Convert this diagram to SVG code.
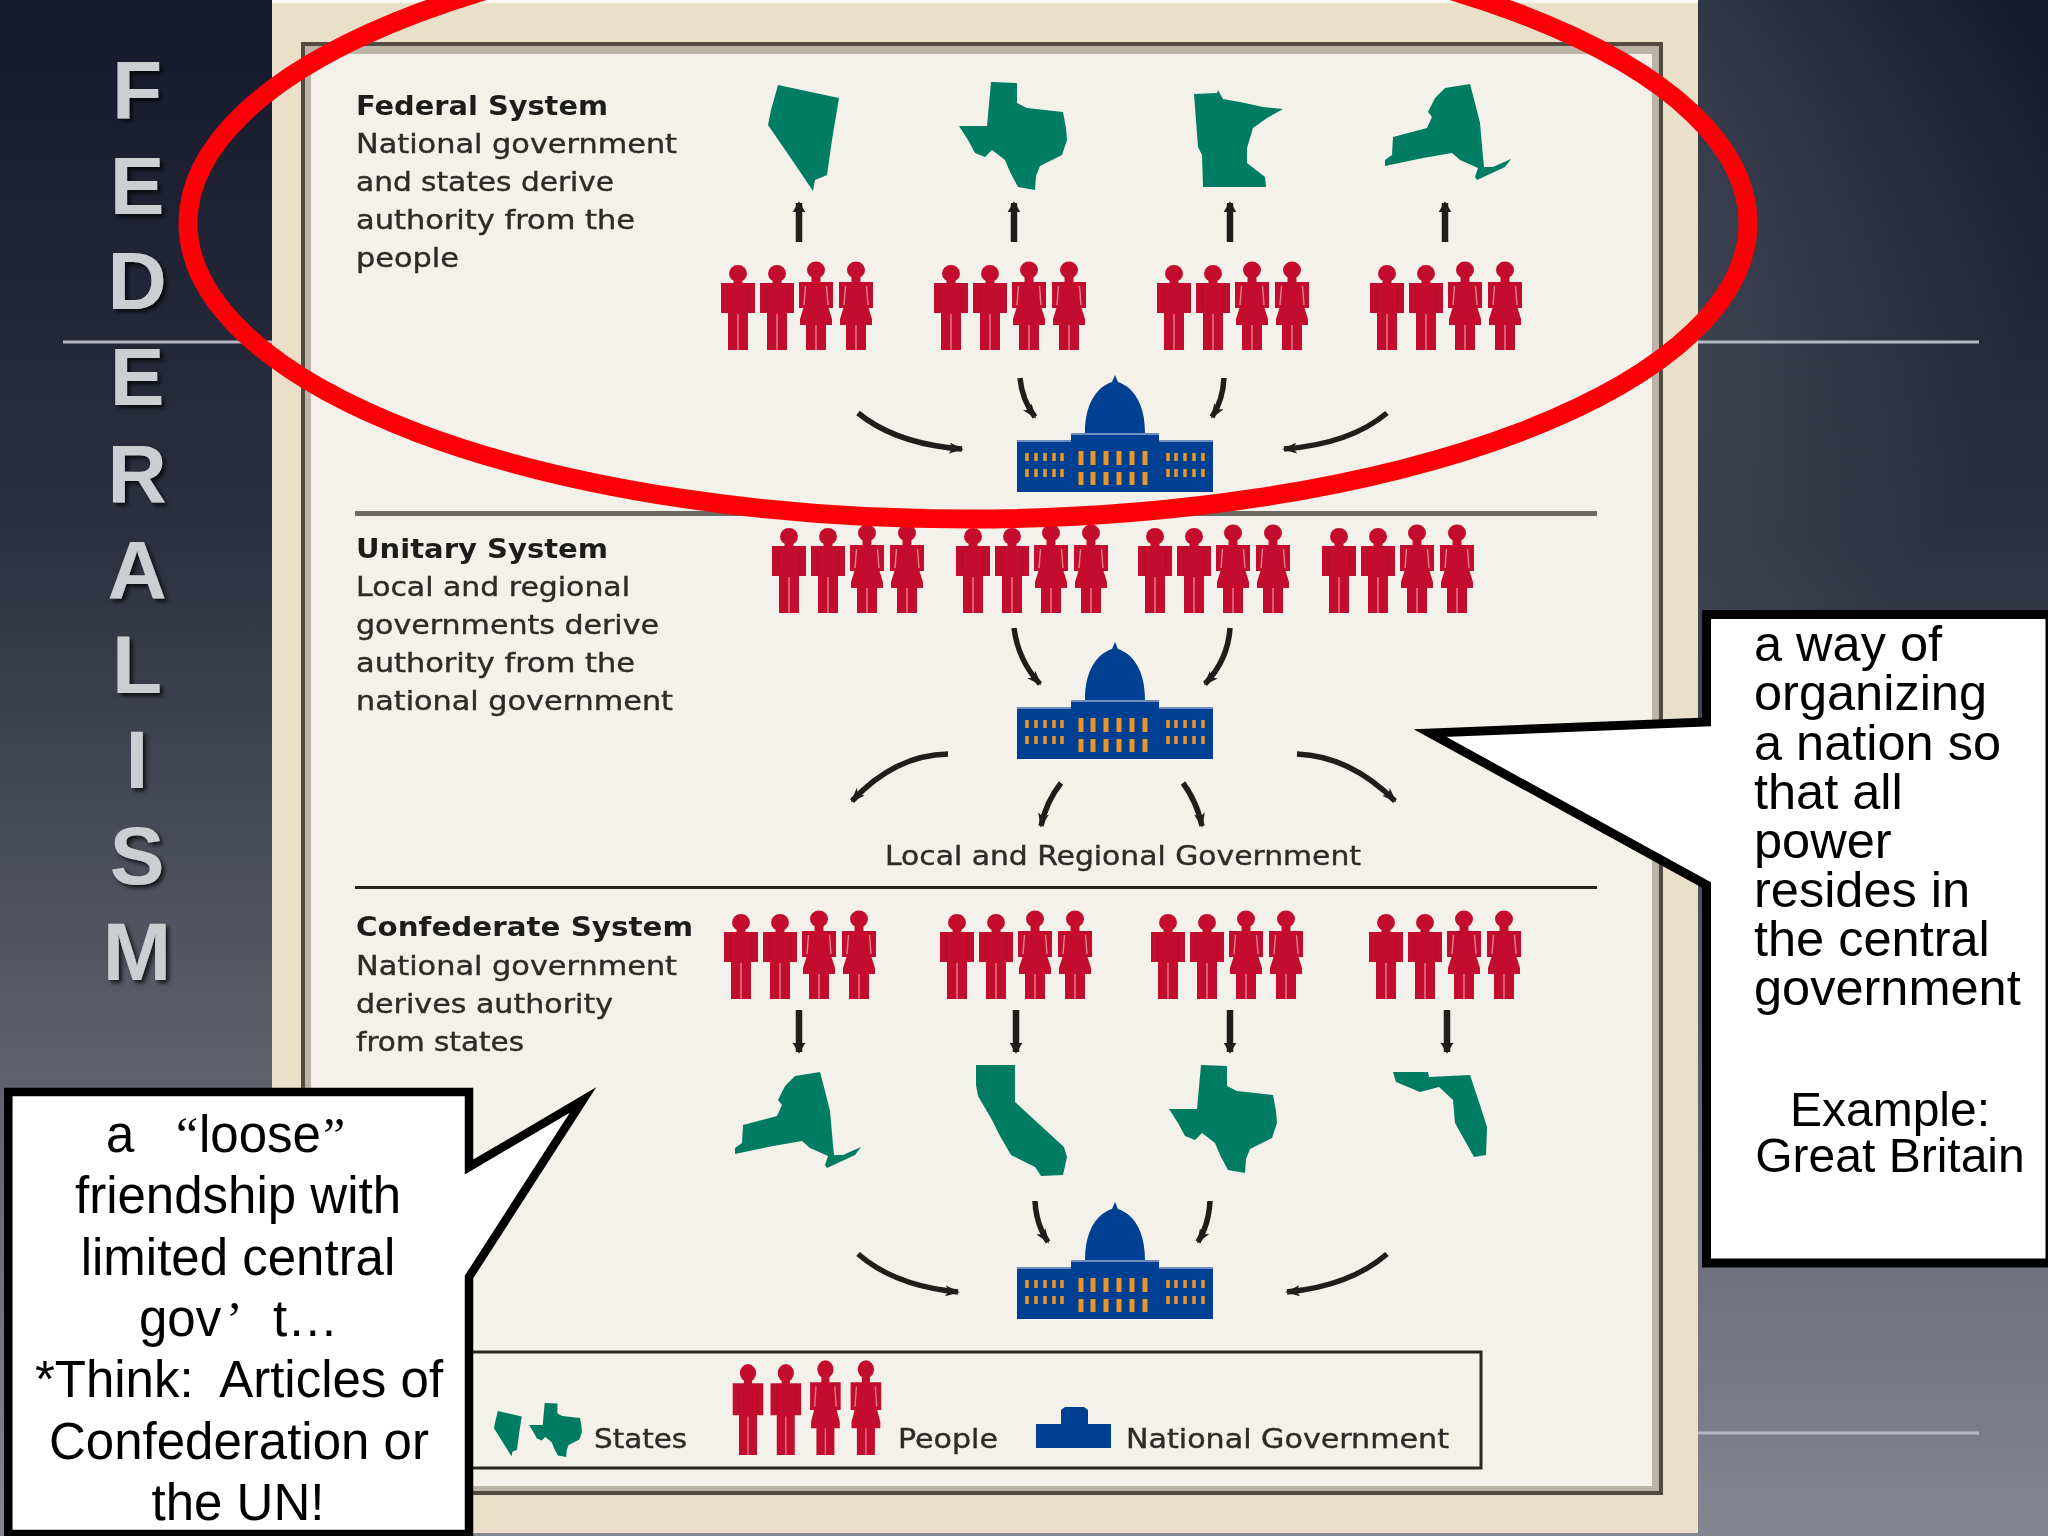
<svg xmlns="http://www.w3.org/2000/svg" width="2048" height="1536" viewBox="0 0 2048 1536">
<defs>
<linearGradient id="bg" x1="0" y1="0" x2="0" y2="1"><stop offset="0" stop-color="#15192b"/><stop offset="0.35" stop-color="#2c3040"/><stop offset="0.7" stop-color="#5f616c"/><stop offset="1" stop-color="#83868f"/></linearGradient>
<radialGradient id="sheen" gradientUnits="userSpaceOnUse" cx="1300" cy="150" r="750"><stop offset="0" stop-color="#dff0f0" stop-opacity="0.17"/><stop offset="0.55" stop-color="#dff0f0" stop-opacity="0.14"/><stop offset="1" stop-color="#dff0f0" stop-opacity="0"/></radialGradient>
<filter id="soft" x="-2%" y="-2%" width="104%" height="104%"><feGaussianBlur stdDeviation="0.7"/></filter>
<filter id="shadow" x="-20%" y="-20%" width="150%" height="150%"><feDropShadow dx="3" dy="3" stdDeviation="2" flood-color="#000" flood-opacity="0.75"/></filter>
<marker id="ah" viewBox="0 0 16 12" refX="14" refY="6" markerUnits="userSpaceOnUse" markerWidth="15" markerHeight="11" orient="auto"><path d="M0,0 L16,6 L0,12 L4,6 Z" fill="#231f1d"/></marker>
<marker id="sh" viewBox="0 0 12 14" refX="10" refY="7" markerUnits="userSpaceOnUse" markerWidth="11" markerHeight="15" orient="auto"><path d="M0,0 L12,7 L0,14 Z" fill="#231f1d"/></marker>
<g id="male"><ellipse cx="0" cy="8.5" rx="9" ry="8.5" class="r"/><rect x="-4.5" y="15" width="9" height="5" class="r"/><path d="M-17,18 H17 V48 H10 V85 H-10 V48 H-17 Z" class="r"/><path d="M-10.5,20 V46 M10.5,20 V46" class="d"/><path d="M0,49 V85" class="l"/></g>
<g id="female"><ellipse cx="0" cy="5" rx="9" ry="8.5" class="r"/><rect x="-4.5" y="12" width="9" height="7" class="r"/><path d="M-17,17 H17 V43 H12.5 L16,54 V60 H10 V85 H-10 V60 H-16 V54 L-12.5,43 H-17 Z" class="r"/><path d="M-10.5,21 L-12,40 M10.5,21 L12,40" class="l"/><path d="M0,60 V85" class="l"/></g>
<g id="four"><use href="#male" x="0"/><use href="#male" x="39"/><use href="#female" x="78"/><use href="#female" x="118"/></g>
<g id="capitol">
<rect x="-98" y="65" width="196" height="52" class="b"/><rect x="-98" y="65" width="196" height="2" fill="#6f8dbd"/><rect x="-44" y="58" width="88" height="59" class="b"/><rect x="-44" y="58" width="88" height="2" fill="#6f8dbd"/>
<path d="M-30,58 C-30,28 -18,12 -3,7 L0,0 L3,7 C18,12 30,28 30,58 Z" class="b"/>
<path d="M-34,76 V90 M-22,76 V90 M-9,76 V90 M4,76 V90 M17,76 V90 M30,76 V90 M-34,97 V110 M-22,97 V110 M-9,97 V110 M4,97 V110 M17,97 V110 M30,97 V110" class="w" stroke-width="5"/>
<path d="M-88,78 V86 M-79,78 V86 M-70,78 V86 M-61,78 V86 M-53,78 V86 M-88,94 V102 M-79,94 V102 M-70,94 V102 M-61,94 V102 M-53,94 V102 M53,78 V86 M61,78 V86 M70,78 V86 M79,78 V86 M88,78 V86 M53,94 V102 M61,94 V102 M70,94 V102 M79,94 V102 M88,94 V102" class="w" stroke-width="3.5"/>
</g>
<path id="nevada" class="g" d="M778,85 L839,98 L832,140 L827,175 L815,180 L813,191 L790,157 L768,125 L771,110 Z"/>
<path id="texas" class="g" d="M991,82 L1017,83 L1017,103 L1027,108 L1045,110 L1063,112 L1066,128 L1067,140 L1062,155 L1040,166 L1036,176 L1035,190 L1018,187 L1010,172 L1005,160 L992,150 L985,157 L975,153 L968,140 L959,126 L987,126 Z"/>
<path id="minnesota" class="g" d="M1194,94 L1217,93 L1218,90 L1223,99 L1240,102 L1263,107 L1283,109 L1267,118 L1253,128 L1247,148 L1247,163 L1265,177 L1266,187 L1203,187 L1202,155 L1198,147 Z"/>
<path id="newyork" class="g" d="M1445,88 L1470,84 L1475,103 L1480,123 L1483,157 L1484,167 L1493,167 L1511,159 L1505,167 L1477,180 L1475,177 L1478,168 L1460,160 L1452,153 L1423,158 L1385,166 L1385,160 L1392,155 L1393,137 L1427,128 L1432,117 L1428,112 L1435,98 Z"/>
<style>
.r{fill:#c4102f}.d{stroke:#b30e2c;stroke-width:1.5;fill:none}.l{stroke:#de8090;stroke-width:1.4;fill:none}
.b{fill:#053f93}.w{stroke:#e8962a;fill:none}.g{fill:#047c63}
.arr{fill:none;stroke:#231f1d;stroke-width:5.5;marker-end:url(#ah)}
.st{fill:none;stroke:#231f1d;stroke-width:6.5;marker-end:url(#sh)}
.lab{font-family:"DejaVu Sans",sans-serif;font-size:26px;fill:#2e2c2a;stroke:#2e2c2a;stroke-width:0.4}
.hd{font-family:"DejaVu Sans",sans-serif;font-size:26px;font-weight:700;fill:#1f1d1b}
.tt{font-family:"Liberation Sans",Arial,sans-serif;font-size:82px;font-weight:700;fill:#cdced1;text-anchor:middle}
.c1{font-family:"Liberation Sans",Arial,sans-serif;font-size:50.5px;fill:#000}
.c2{font-family:"Liberation Sans",Arial,sans-serif;font-size:48px;fill:#000;text-anchor:middle}
.c3{font-family:"Liberation Sans",Arial,sans-serif;font-size:51px;fill:#000;text-anchor:middle;white-space:pre}
.c4{font-family:"Liberation Sans",Arial,sans-serif;font-size:51px;fill:#000}
.q{font-family:"Liberation Serif",serif;font-size:50px;fill:#000}
</style>
</defs>
<rect width="2048" height="1536" fill="url(#bg)"/>
<rect width="2048" height="1536" fill="url(#sheen)"/>
<g id="rules" stroke="#b6b7c5" stroke-width="3"><path d="M63,342 H272 M1698,342 H1979 M1698,1433 H1979"/></g>
<g id="title" filter="url(#shadow)">
<text class="tt" x="137" y="119">F</text><text class="tt" x="137" y="214">E</text><text class="tt" x="137" y="309">D</text><text class="tt" x="137" y="405">E</text><text class="tt" x="137" y="502">R</text><text class="tt" x="137" y="598">A</text><text class="tt" x="137" y="693">L</text><text class="tt" x="137" y="788">I</text><text class="tt" x="137" y="884">S</text><text class="tt" x="137" y="980">M</text>
</g>
<g id="panel">
<rect x="272" y="0" width="1426" height="1533" fill="#eadfc8"/>
<rect x="272" y="0" width="1426" height="3" fill="#f8f6f0"/>
<rect x="303" y="44" width="1358" height="1449" fill="#b9b4a5" stroke="#514c3f" stroke-width="4"/>
<rect x="311" y="54" width="1341" height="1432" fill="#f3f1e9"/>
</g>
<g id="chart" filter="url(#soft)">
<g id="separators"><rect x="355" y="511" width="1242" height="5" fill="#6d6b65"/><rect x="355" y="886" width="1242" height="3" fill="#26241f"/></g>
<g id="federal-text">
<text class="hd" x="356" y="115" textLength="252" lengthAdjust="spacingAndGlyphs">Federal System</text>
<text class="lab" x="356" y="153" textLength="321" lengthAdjust="spacingAndGlyphs">National government</text>
<text class="lab" x="356" y="191" textLength="258" lengthAdjust="spacingAndGlyphs">and states derive</text>
<text class="lab" x="356" y="229" textLength="279" lengthAdjust="spacingAndGlyphs">authority from the</text>
<text class="lab" x="356" y="267" textLength="103" lengthAdjust="spacingAndGlyphs">people</text>
</g>
<g id="unitary-text">
<text class="hd" x="356" y="558" textLength="252" lengthAdjust="spacingAndGlyphs">Unitary System</text>
<text class="lab" x="356" y="596" textLength="274" lengthAdjust="spacingAndGlyphs">Local and regional</text>
<text class="lab" x="356" y="634" textLength="303" lengthAdjust="spacingAndGlyphs">governments derive</text>
<text class="lab" x="356" y="672" textLength="279" lengthAdjust="spacingAndGlyphs">authority from the</text>
<text class="lab" x="356" y="710" textLength="317" lengthAdjust="spacingAndGlyphs">national government</text>
<text class="lab" x="885" y="865" textLength="476" lengthAdjust="spacingAndGlyphs">Local and Regional Government</text>
</g>
<g id="confederate-text">
<text class="hd" x="356" y="936" textLength="337" lengthAdjust="spacingAndGlyphs">Confederate System</text>
<text class="lab" x="356" y="975" textLength="321" lengthAdjust="spacingAndGlyphs">National government</text>
<text class="lab" x="356" y="1013" textLength="257" lengthAdjust="spacingAndGlyphs">derives authority</text>
<text class="lab" x="356" y="1051" textLength="168" lengthAdjust="spacingAndGlyphs">from states</text>
</g>
<g id="fed-states"><use href="#nevada"/><use href="#texas"/><use href="#minnesota"/><use href="#newyork"/></g>
<g id="fed-people-1" transform="translate(738,265)"><use href="#four"/></g>
<g id="fed-people-2" transform="translate(951,265)"><use href="#four"/></g>
<g id="fed-people-3" transform="translate(1174,265)"><use href="#four"/></g>
<g id="fed-people-4" transform="translate(1387,265)"><use href="#four"/></g>
<g id="fed-capitol" transform="translate(1115,375)"><use href="#capitol"/></g>
<g id="uni-people-1" transform="translate(789,528)"><use href="#four"/></g>
<g id="uni-people-2" transform="translate(973,528)"><use href="#four"/></g>
<g id="uni-people-3" transform="translate(1155,528)"><use href="#four"/></g>
<g id="uni-people-4" transform="translate(1339,528)"><use href="#four"/></g>
<g id="uni-capitol" transform="translate(1115,642)"><use href="#capitol"/></g>
<g id="con-people-1" transform="translate(741,914)"><use href="#four"/></g>
<g id="con-people-2" transform="translate(957,914)"><use href="#four"/></g>
<g id="con-people-3" transform="translate(1168,914)"><use href="#four"/></g>
<g id="con-people-4" transform="translate(1386,914)"><use href="#four"/></g>
<g id="con-states">
<use href="#newyork" transform="translate(-650,988)"/>
<path class="g" d="M976,1065 L1015,1065 L1015,1102 L1040,1125 L1064,1147 L1067,1157 L1063,1175 L1041,1176 L1035,1167 L1011,1155 L1000,1136 L992,1120 L978,1096 L976,1085 Z"/>
<use href="#texas" transform="translate(210,983)"/>
<path class="g" d="M1393,1072 L1428,1072 L1429,1077 L1470,1075 L1480,1105 L1487,1127 L1486,1155 L1474,1157 L1455,1123 L1453,1100 L1439,1087 L1420,1092 L1396,1082 Z"/>
</g>
<g id="con-capitol" transform="translate(1115,1202)"><use href="#capitol"/></g>
<g id="connectors">
<path class="st" d="M799,242 V203"/><path class="st" d="M1014,242 V203"/><path class="st" d="M1230,242 V203"/><path class="st" d="M1445,242 V203"/>
<path class="arr" d="M858,413 Q896,444 962,449"/><path class="arr" d="M1020,378 Q1022,400 1035,417"/><path class="arr" d="M1224,378 Q1223,400 1212,417"/><path class="arr" d="M1387,413 Q1350,444 1284,449"/>
<path class="arr" d="M1014,628 Q1018,660 1040,684"/><path class="arr" d="M1230,628 Q1228,660 1205,684"/>
<path class="arr" d="M948,754 Q895,755 852,801"/><path class="arr" d="M1297,754 Q1350,756 1395,801"/><path class="arr" d="M1061,783 Q1046,802 1041,826"/><path class="arr" d="M1183,783 Q1197,802 1202,826"/>
<path class="st" d="M799,1010 V1052"/><path class="st" d="M1016,1010 V1052"/><path class="st" d="M1230,1010 V1052"/><path class="st" d="M1447,1010 V1052"/>
<path class="arr" d="M858,1254 Q895,1286 958,1292"/><path class="arr" d="M1035,1201 Q1036,1224 1048,1242"/><path class="arr" d="M1210,1201 Q1209,1224 1198,1242"/><path class="arr" d="M1387,1254 Q1350,1286 1287,1292"/>
</g>
<g id="legend">
<rect x="440" y="1352" width="1041" height="116" fill="none" stroke="#2a2824" stroke-width="3"/>
<g transform="translate(494,1411)"><use href="#nevada" transform="scale(0.39,0.43) translate(-768,-85)"/></g>
<g transform="translate(529,1403)"><use href="#texas" transform="scale(0.49,0.5) translate(-959,-82)"/></g>
<text class="lab" x="594" y="1448" textLength="93" lengthAdjust="spacingAndGlyphs">States</text>
<g transform="translate(748,1364) scale(0.9,1.07)"><use href="#male"/><use href="#male" x="42"/><use href="#female" x="86"/><use href="#female" x="131"/></g>
<text class="lab" x="898" y="1448" textLength="100" lengthAdjust="spacingAndGlyphs">People</text>
<path class="b" d="M1036,1424 H1061 V1410 L1065,1407 H1084 L1088,1410 V1424 H1111 V1448 H1036 Z"/>
<text class="lab" x="1126" y="1448" textLength="323" lengthAdjust="spacingAndGlyphs">National Government</text>
</g>
</g>
<ellipse id="red-oval" cx="968" cy="223" rx="780" ry="296" fill="none" stroke="#fb0007" stroke-width="19"/>
<g id="callout-unitary">
<path d="M1706.5,614.5 H2050 V1263 H1706.5 V885 L1430,733 L1706.5,722 Z" fill="#fff" stroke="#000" stroke-width="9" stroke-miterlimit="10"/>
<text class="c1" x="1754" y="661">a way of</text><text class="c1" x="1754" y="710">organizing</text><text class="c1" x="1754" y="760">a nation so</text><text class="c1" x="1754" y="809">that all</text><text class="c1" x="1754" y="858">power</text><text class="c1" x="1754" y="907">resides in</text><text class="c1" x="1754" y="956">the central</text><text class="c1" x="1754" y="1005">government</text>
<text class="c2" x="1890" y="1126">Example:</text><text class="c2" x="1890" y="1172">Great Britain</text>
</g>
<g id="callout-confederate">
<path d="M8.3,1092 H469 V1167 L583,1100 L469,1277 V1534 H8.3 Z" fill="#fff" stroke="#000" stroke-width="8.5" stroke-miterlimit="10"/>
<text class="c4" x="106" y="1152">a</text><text class="q" x="176" y="1152">“</text><text class="c4" x="199" y="1152">loose</text><text class="q" x="323" y="1152">”</text>
<text class="c3" x="238" y="1213">friendship with</text><text class="c3" x="238" y="1275">limited central</text>
<text class="c4" x="139" y="1336">gov</text><text class="q" x="226" y="1336">’</text><text class="c4" x="273" y="1336">t…</text>
<text class="c3" x="239" y="1397">*Think:  Articles of</text><text class="c3" x="239" y="1459">Confederation or</text><text class="c3" x="238" y="1520">the UN!</text>
</g>
</svg>
